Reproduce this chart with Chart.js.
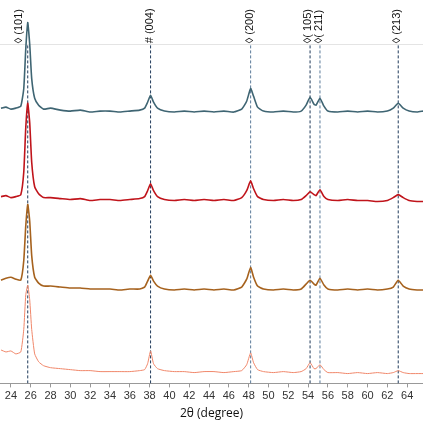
<!DOCTYPE html>
<html><head><meta charset="utf-8">
<script src="https://cdn.jsdelivr.net/npm/chart.js@4"></script>
<style>html,body{margin:0;padding:0;background:#fff}#w{width:423px;height:423px}</style>
</head><body><div id="w"><canvas id="c"></canvas></div>
<script>
const twoTheta=[23,23.5,24,24.5,25,25.3,25.5,25.7,25.9,26.1,26.4,26.8,27.3,28,29,30,31,32,33,34,35,36,37,37.5,37.8,38.1,38.4,38.8,39.5,40.5,41.5,42.5,43.5,44.5,45.5,46.5,47.3,47.8,48.2,48.5,48.9,49.5,50.5,51.5,52.5,53.3,53.8,54.2,54.6,54.8,55.2,55.6,56,57,58,59,60,61,62,62.6,63.1,63.6,64.2,65,65.6];
const blueI=[280,281,279,280,282,300,340,367,345,310,290,283,279,280,278,277,278,276,277,277,276,277,278,280,286,293,286,280,277,276,277,276,277,276,277,276,279,287,300,292,281,277,276,277,276,277,283,291,284,283,290,282,277,276,277,276,277,276,277,280,285,280,277,276,277];
const redI=[190,191,189,190,192,215,260,285,265,225,200,193,189,189,188,187,188,186,187,187,186,187,188,190,196,203,196,190,187,186,187,186,187,186,187,186,189,196,206,198,190,187,186,187,186,187,191,195,192,191,197,190,187,186,187,186,186,185,186,189,192,189,186,185,185];
const brownI=[105,107,108,106,105,125,160,182,165,130,108,102,99,99,98,97,97,96,96,96,95,96,96,98,104,110,104,99,96,95,96,95,96,95,96,95,98,106,118,108,99,96,95,96,95,96,101,105,101,100,107,100,96,95,96,95,96,95,96,98,105,99,96,95,95];
const orangeI=[34,32,33,30,32,55,90,100,85,55,30,22,18,16,15,14,13,13,12,12,12,12,13,14,20,33,20,15,13,12,12,11,12,12,11,12,13,19,31,21,14,12,11,12,11,12,15,21,15,15,19,14,11,11,10,11,10,11,10,11,13,11,10,10,10];
const peakPos=[25.7,38.1,48.2,54.2,55.2,63.1];
const peakLabels=["◊ (101)","# (004)","◊ (200)","◊( 105)","◊( 211)","◊ (213)"];
const labelShift=[-8,0,0,-1,0,0];
const peakColors=["#1f3a5a","#1f3a5a","#5a7a99","#1f3a5a","#5a7a99","#1f3a5a"];
const gridLevel=345;
const mk=(arr)=>twoTheta.map((x,i)=>({x:x,y:arr[i]}));
const series=[[blueI,"#3f6573",1.6],[redI,"#c0141b",1.6],[brownI,"#a6621e",1.6],[orangeI,"#f0876a",1]];
const ds=series.map(s=>({data:mk(s[0]),borderColor:s[1],borderWidth:s[2],pointRadius:0,tension:0.15,fill:false}));
peakPos.forEach((p,i)=>ds.push({data:[{x:p,y:0},{x:p,y:gridLevel}],borderColor:peakColors[i],borderWidth:1,borderDash:[3,2],pointRadius:0}));
const deco={id:'deco',
 beforeDatasetsDraw(ch){const {ctx,chartArea:a,scales:{y}}=ch;ctx.save();ctx.strokeStyle='#e4e4e4';ctx.lineWidth=1;const yy=Math.round(y.getPixelForValue(gridLevel))+0.5;ctx.beginPath();ctx.moveTo(a.left,yy);ctx.lineTo(a.right,yy);ctx.stroke();ctx.restore();},
 afterDatasetsDraw(ch){const {ctx,scales:{x,y}}=ch;ctx.save();ctx.fillStyle='#111';ctx.font='11px "Liberation Sans", Arial';ctx.textBaseline='middle';ctx.textAlign='left';
 peakPos.forEach((p,i)=>{const px=x.getPixelForValue(p)+labelShift[i],py=y.getPixelForValue(gridLevel)-1;ctx.save();ctx.translate(px-1,py);ctx.rotate(-Math.PI/2);ctx.fillText(peakLabels[i],0,0);ctx.restore();});
 ctx.restore();}};
new Chart(document.getElementById('c'),{type:'line',data:{datasets:ds},plugins:[deco],
options:{responsive:true,maintainAspectRatio:false,animation:false,layout:{padding:{left:0,right:0,top:0,bottom:2}},
plugins:{legend:{display:false},tooltip:{enabled:false}},
scales:{x:{type:'linear',min:22.9,max:65.6,afterBuildTicks(ax){const t=[];for(let v=24;v<=64;v+=2)t.push({value:v});ax.ticks=t;},
 ticks:{color:'#333',font:{size:11,family:'"Liberation Sans", Arial'},maxRotation:0,autoSkip:false,padding:2},
 grid:{display:true,drawOnChartArea:false,drawTicks:true,tickLength:4,color:'#999'},border:{color:'#999'},
 title:{display:true,text:'2θ (degree)',color:'#111',font:{size:12,family:'"Open Sans", Arial'},padding:{top:2,bottom:0}}},
 y:{display:false,min:0,max:390}}}});
</script></body></html>
